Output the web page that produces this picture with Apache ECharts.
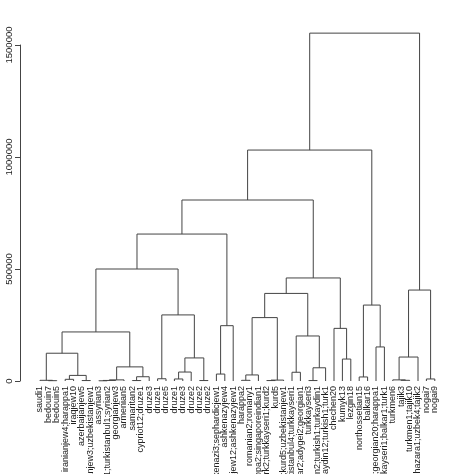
<!DOCTYPE html>
<html>
<head>
<meta charset="utf-8">
<script src="https://cdn.jsdelivr.net/npm/echarts@6/dist/echarts.min.js"></script>
<style>
  html, body { margin: 0; padding: 0; background: #fff; }
  #chart { width: 474px; height: 474px; }
</style>
</head>
<body>
<div id="chart"></div>
<script>
// leaves in plotting order
const leafLabels = [
    'saudi1', 'bedouin7', 'bedouin5', 'iranianjew4;harappa1', 'iraqjew10', 'azerbaijanjew5',
    'azerbaijanjew3;uzbekistanjew1', 'assyrian3', 'iranian1;turkistanbul1;syrian2', 'georgianjew3',
    'armenian5', 'samaritan2', 'cypriot12;druze1', 'druze3', 'druze1', 'druze5', 'druze1', 'druze3',
    'druze2', 'druze2', 'druze2', 'ashkenazi3;sephardicjew1', 'ashkenazyjew4',
    'sephardicjew12;ashkenazyjew1', 'harappa2', 'romanian2;romany1', 'harappa2;singaporeindian1',
    'kurd4;turk2;turkkayseri1;kurd2', 'kurd5', 'iraqjew10;kurd5;uzbekistanjew1',
    'turkistanbul4;turkkayseri1', 'balkar2;adygei2;georgian1', 'turkkayseri3',
    'chechen2;turkish1;turkaydin1', 'turkaydin12;turkish1;turk1', 'chechen20', 'kumyk13', 'lezgin18',
    'northossetian15', 'balkar16', 'georgian19;georgian20;harappa1', 'turkkayseri1;balkar1;turk1',
    'turkmen6', 'tajik3', 'turkmen1;tajik10', 'tajik4;hazara1;uzbek4;tajik2', 'nogai7', 'nogai9'
]

// hclust style merges: negative = leaf number, positive = earlier merge number
const mergeLeft = [
    -2, -1, -4, -6, 3, 2, -8, 7, 8, -12, 10, 9, 6, -15, -17, 15, -20, 16, 14, 13, -22, 21, 20,
    -25, 24, -28, 26, 25, -31, -33, 30, 29, 28, -37, -36, 33, 23, -39, -41, 38, 37, -44, -43, 43,
    -47, 44, 41
]
const mergeRight = [
    -3, 1, -5, -7, 4, 5, -9, -10, -11, -13, -14, 11, 12, -16, -18, -19, -21, 17, 18, 19, -23, -24,
    22, -26, -27, -29, -30, 27, -32, -34, -35, 31, 32, -38, 34, 35, 36, -40, -42, 39, 40, -45, 42,
    -46, -48, 45, 46
]
const mergeHeight = [
    1500, 3000, 7500, 2000, 25000, 124000, 1000, 2500, 5000, 2000, 19000, 63000, 219000, 10000,
    9000, 40000, 2000, 103000, 295000, 500000, 31000, 247000, 656000, 3000, 27000, 2000, 4000,
    283000, 39000, 2000, 59000, 201000, 391000, 98000, 235000, 460000, 808000, 18000, 152000,
    339000, 1031000, 3000, 5000, 107000, 9000, 406000, 1553000
]

const yTicks = [0, 500000, 1000000, 1500000]

// node position along x = leaf index, merges sit midway between children
const nodeX = []
const posOf = (ref) => (ref < 0 ? -ref : nodeX[ref - 1])
const heightOf = (ref) => (ref < 0 ? 0 : mergeHeight[ref - 1])

const links = mergeHeight.map((h, i) => {
    const l = mergeLeft[i]
    const r = mergeRight[i]
    nodeX[i] = (posOf(l) + posOf(r)) / 2
    return [posOf(l), heightOf(l), posOf(r), heightOf(r), h]
})

const lineColor = '#444'
const textColor = '#222'

const chart = echarts.init(document.getElementById('chart'))
chart.setOption({
    animation: false,
    backgroundColor: '#fff',
    textStyle: { fontFamily: 'Liberation Sans, Arial, sans-serif' },
    grid: { left: 35.8, right: 35, top: 45, bottom: 93, containLabel: false, outerBoundsMode: 'none' },
    xAxis: [
        { type: 'value', min: 0.5, max: leafLabels.length + 0.5, show: false },
        {
            type: 'category',
            data: leafLabels,
            position: 'bottom',
            axisLine: { show: false },
            axisTick: { show: false },
            axisLabel: { interval: 0, rotate: 90, fontSize: 9, margin: 5, color: textColor }
        }
    ],
    yAxis: {
        type: 'value',
        min: yTicks[0],
        max: yTicks[yTicks.length - 1],
        interval: yTicks[1] - yTicks[0],
        offset: 15.8,
        splitLine: { show: false },
        axisLine: { show: true, lineStyle: { color: lineColor, width: 1 } },
        axisTick: { show: true, length: 5, lineStyle: { color: lineColor } },
        axisLabel: { rotate: 90, fontSize: 9.5, margin: 6, color: textColor, formatter: (v) => String(v) }
    },
    series: [{
        type: 'custom',
        xAxisIndex: 0,
        yAxisIndex: 0,
        clip: false,
        encode: { x: [0, 2], y: [1, 3, 4] },
        data: links,
        renderItem: (params, api) => {
            const a = api.coord([api.value(0), api.value(1)])
            const b = api.coord([api.value(0), api.value(4)])
            const c = api.coord([api.value(2), api.value(4)])
            const d = api.coord([api.value(2), api.value(3)])
            return {
                type: 'polyline',
                shape: { points: [a, b, c, d] },
                style: { fill: null, stroke: lineColor, lineWidth: 1 }
            }
        }
    }]
})
</script>
</body>
</html>
